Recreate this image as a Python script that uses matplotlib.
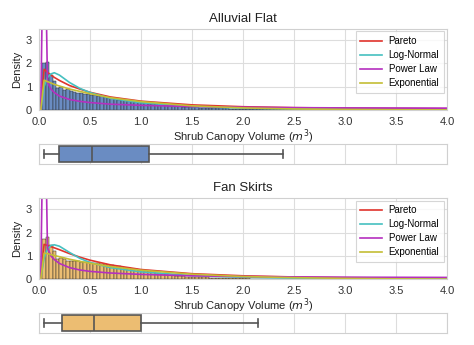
import numpy as np
import matplotlib
matplotlib.use('Agg')
import matplotlib.pyplot as plt

plt.rcParams['font.family'] = ['Liberation Sans', 'DejaVu Sans']

# histogram bins (width 1/30) and densities
bin_width = 1 / 30
alluvial_hist = [0, 2.0, 2.05, 1.5, 1.25, 0.95, 1.0, 0.85, 0.9, 0.8,
                 0.78, 0.75, 0.72, 0.7, 0.68, 0.66, 0.63, 0.6, 0.58, 0.55,
                 0.52, 0.5, 0.47, 0.45, 0.43, 0.41, 0.39, 0.37, 0.35, 0.33,
                 0.31, 0.29, 0.27, 0.26, 0.24, 0.23, 0.21, 0.2, 0.19, 0.18,
                 0.17, 0.16, 0.15, 0.14, 0.13, 0.12, 0.11, 0.105, 0.1, 0.095,
                 0.09, 0.085, 0.08, 0.075, 0.07, 0.066, 0.062, 0.058, 0.055, 0.052,
                 0.05, 0.048, 0.046, 0.044, 0.042, 0.04, 0.038, 0.036, 0.035, 0.034,
                 0.033, 0.032, 0.031, 0.03, 0.029, 0.028, 0.027, 0.026, 0.025, 0.025,
                 0.024, 0.024, 0.023, 0.023, 0.022, 0.022, 0.021, 0.021, 0.02, 0.02,
                 0.02, 0.019, 0.019, 0.018, 0.018, 0.018, 0.017, 0.017, 0.017, 0.016,
                 0.016, 0.016, 0.015, 0.015, 0.015, 0.014, 0.014, 0.014, 0.013, 0.013,
                 0.013, 0.013, 0.012, 0.012, 0.012, 0.012, 0.011, 0.011, 0.011, 0.011]
fan_hist = [0, 1.75, 1.83, 1.45, 1.2, 0.85, 0.9, 0.85, 0.8, 0.8,
            0.78, 0.77, 0.76, 0.75, 0.74, 0.72, 0.7, 0.69, 0.67, 0.65,
            0.63, 0.61, 0.58, 0.56, 0.53, 0.5, 0.48, 0.46, 0.44, 0.42,
            0.4, 0.37, 0.34, 0.31, 0.29, 0.26, 0.24, 0.22, 0.2, 0.18,
            0.16, 0.15, 0.14, 0.12, 0.11, 0.1, 0.095, 0.09, 0.085, 0.08,
            0.075, 0.07, 0.065, 0.06, 0.056, 0.052, 0.049, 0.046, 0.043, 0.04,
            0.038, 0.036, 0.034, 0.032, 0.03, 0.029, 0.028, 0.027, 0.026, 0.025,
            0.024, 0.023, 0.022, 0.021, 0.02, 0.02, 0.019, 0.019, 0.018, 0.018,
            0.017, 0.017, 0.016, 0.016, 0.015, 0.015, 0.015, 0.014, 0.014, 0.014,
            0.013, 0.013, 0.013, 0.012, 0.012, 0.012, 0.012, 0.011, 0.011, 0.011,
            0.011, 0.01, 0.01, 0.01, 0.01, 0.01, 0.009, 0.009, 0.009, 0.009,
            0.009, 0.009, 0.008, 0.008, 0.008, 0.008, 0.008, 0.008, 0.008, 0.008]

# fitted pdf curves
fit_x = [0.017, 0.05, 0.083, 0.117, 0.15, 0.2, 0.3, 0.4, 0.5, 0.7, 1.0, 1.5, 2.0, 2.5, 3.0, 3.5, 4.0]
alluvial_fits = {
    'Pareto':      [0, 1.75, 1.62, 1.5, 1.4, 1.27, 1.05, 0.9, 0.76, 0.56, 0.38, 0.22, 0.14, 0.1, 0.08, 0.065, 0.055],
    'Log-Normal':  [0, 1.0, 1.4, 1.55, 1.6, 1.5, 1.18, 0.93, 0.75, 0.5, 0.31, 0.15, 0.08, 0.05, 0.03, 0.02, 0.012],
    'Power Law':   [0, 10, 1.2, 0.9, 0.75, 0.6, 0.45, 0.37, 0.32, 0.25, 0.2, 0.15, 0.12, 0.1, 0.09, 0.085, 0.08],
    'Exponential': [0, 1.28, 1.22, 1.16, 1.1, 1.03, 0.9, 0.8, 0.7, 0.53, 0.36, 0.18, 0.09, 0.045, 0.022, 0.01, 0.005],
}
fan_fits = {
    'Pareto':      [0, 1.5, 1.45, 1.4, 1.35, 1.27, 1.1, 0.95, 0.82, 0.62, 0.42, 0.24, 0.15, 0.1, 0.07, 0.055, 0.045],
    'Log-Normal':  [0, 0.9, 1.3, 1.45, 1.48, 1.42, 1.15, 0.9, 0.72, 0.5, 0.32, 0.16, 0.09, 0.05, 0.03, 0.02, 0.015],
    'Power Law':   [0, 10, 1.35, 1.0, 0.85, 0.68, 0.5, 0.4, 0.34, 0.27, 0.21, 0.15, 0.12, 0.1, 0.09, 0.085, 0.08],
    'Exponential': [0, 1.12, 1.1, 1.06, 1.02, 0.97, 0.86, 0.77, 0.69, 0.55, 0.39, 0.22, 0.12, 0.07, 0.04, 0.02, 0.01],
}
fit_colors = {'Pareto': '#e0342c', 'Log-Normal': '#45c0c0',
              'Power Law': '#b52fbf', 'Exponential': '#c4bd35'}

# box plot summaries (whislo, q1, med, q3, whishi)
alluvial_box = [0.052, 0.196, 0.523, 1.075, 2.39]
fan_box = [0.052, 0.229, 0.542, 1.003, 2.15]

panels = [
    ('Alluvial Flat', alluvial_hist, alluvial_fits, alluvial_box, '#6a8cc2'),
    ('Fan Skirts', fan_hist, fan_fits, fan_box, '#ecbd72'),
]

W, H = 474, 345
fig = plt.figure(figsize=(W / 100, H / 100), dpi=100)
left, right = 39 / W, 447 / W
hist_rows = [(28.5, 110), (197.7, 279.3)]
box_rows = [(144, 164), (312.7, 332.7)]
grid_c = '#dddddd'
spine_c = '#d0d0d0'


def style(ax):
    ax.set_facecolor('white')
    for s in ax.spines.values():
        s.set_color(spine_c)
        s.set_linewidth(0.8)
    ax.grid(True, color=grid_c, linewidth=0.8)
    ax.set_axisbelow(True)
    ax.tick_params(length=0, labelsize=8, colors='#333333')
    ax.tick_params(axis='x', pad=5)
    ax.tick_params(axis='y', pad=5)


xticks = np.arange(0, 4.01, 0.5)
for i, (title, hist, fits, box, color) in enumerate(panels):
    top, bot = hist_rows[i]
    ax = fig.add_axes([left, 1 - bot / H, right - left, (bot - top) / H])
    style(ax)
    edges = np.arange(len(hist)) * bin_width
    ax.bar(edges, hist, width=bin_width, align='edge', color=color,
           edgecolor='#2b2b2b', linewidth=0.35)
    for name, ys in fits.items():
        ax.plot(fit_x, ys, color=fit_colors[name], lw=1.2, label=name)
    ax.set_xlim(0, 4)
    ax.set_ylim(0, 3.5)
    ax.set_xticks(xticks)
    ax.set_yticks([0, 1, 2, 3])
    ax.set_title(title, fontsize=9.5, pad=5, color='#222222')
    ax.set_ylabel('Density', fontsize=8, labelpad=3, color='#222222')
    ax.set_xlabel('Shrub Canopy Volume ($m^3$)', fontsize=8, labelpad=0, color='#222222')
    leg = ax.legend(loc='upper right', fontsize=7, frameon=True, handlelength=2.2,
                    borderpad=0.5, labelspacing=0.4, handletextpad=0.7,
                    fancybox=False, borderaxespad=0.3)
    leg.get_frame().set_edgecolor('#cccccc')
    leg.get_frame().set_linewidth(0.8)

    btop, bbot = box_rows[i]
    bx = fig.add_axes([left, 1 - bbot / H, right - left, (bbot - btop) / H])
    style(bx)
    stats = [dict(whislo=box[0], q1=box[1], med=box[2], q3=box[3], whishi=box[4], fliers=[])]
    bx.bxp(stats, vert=False, widths=0.8, patch_artist=True, showfliers=False,
           boxprops=dict(facecolor=color, edgecolor='#555555', linewidth=1.2),
           whiskerprops=dict(color='#555555', linewidth=1.2),
           capprops=dict(color='#555555', linewidth=1.2),
           medianprops=dict(color='#555555', linewidth=1.2))
    bx.set_xlim(0, 4)
    bx.set_ylim(0.5, 1.5)
    bx.set_xticks(xticks)
    bx.set_xticklabels([])
    bx.set_yticks([])
    bx.grid(True, axis='x', color=grid_c, linewidth=0.8)
    bx.grid(False, axis='y')

fig.savefig('out.png', dpi=100)
